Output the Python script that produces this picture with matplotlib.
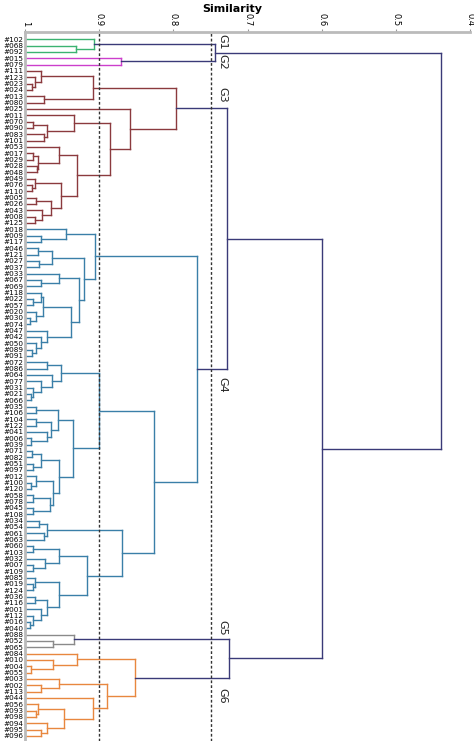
import matplotlib
matplotlib.use("Agg")
import matplotlib.pyplot as plt

leaves = ["#102","#068","#092","#015","#079","#111","#123","#023","#024","#013","#080","#025","#011","#070","#090","#083","#101","#053","#017","#029","#028","#048","#049","#076","#110","#005","#026","#043","#008","#125",
"#018","#009","#117","#046","#121","#027","#037","#033","#067","#069","#118","#022","#057","#020","#030","#074","#047","#042","#050","#089","#091","#072","#086","#064","#077","#031","#021","#066","#035","#106","#104","#122","#041","#006","#039","#071","#082","#051","#097","#012","#100","#120","#058","#078","#045","#108","#034","#054","#061","#063","#060","#103","#032","#007","#109","#085","#019","#124","#036","#116","#001","#112","#016","#040",
"#088","#052","#065","#084","#010","#004","#055","#003","#002","#113","#044","#056","#093","#098","#094","#095","#096"]

# clusters: (left, right, similarity)
G1 = ("#102", ("#068", "#092", 0.931), 0.907)
G2 = ("#015", "#079", 0.871)
G3 = (((("#111", ("#123", ("#023", "#024", 0.991), 0.987), 0.978)), ("#013", "#080", 0.975), 0.909),
      ("#025",
       (("#011", (("#070", "#090", 0.990), ("#083", "#101", 0.975), 0.971), 0.934),
        (("#053", (("#017", "#029", 0.989), ("#028", "#048", 0.984), 0.983), 0.954),
         (("#049", ("#076", "#110", 0.991), 0.987),
          (("#005", "#026", 0.986), ("#043", ("#008", "#125", 0.987), 0.977), 0.965), 0.952), 0.930), 0.886), 0.858), 0.796)
G4a = ((("#018", ("#009", "#117", 0.978), 0.945),
        ((("#046", "#121", 0.982), ("#027", "#037", 0.981), 0.964),
         (("#033", ("#067", "#069", 0.979), 0.954),
          ((("#118", ("#022", "#057", 0.990), 0.978), ("#020", ("#030", "#074", 0.993), 0.986), 0.976),
           ("#047", ("#042", ("#050", ("#089", "#091", 0.991), 0.986), 0.979), 0.971), 0.938), 0.928), 0.920), 0.906))
G4b = (((("#072", "#086", 0.971), ("#064", ("#077", ("#031", ("#021", "#066", 0.992), 0.989), 0.978), 0.964), 0.951),
        ((("#035", "#106", 0.986), (("#104", "#122", 0.986), ("#041", ("#006", "#039", 0.992), 0.971), 0.965), 0.956),
         ((("#071", "#082", 0.991), ("#051", "#097", 0.989), 0.978),
          (("#012", ("#100", "#120", 0.992), 0.986), (("#058", "#078", 0.990), ("#045", "#108", 0.989), 0.967), 0.962), 0.954), 0.935), 0.900),
       ((("#034", "#054", 0.981), ("#061", "#063", 0.975), 0.971),
        ((("#060", "#103", 0.990), ("#032", ("#007", "#109", 0.989), 0.973), 0.954),
         (("#085", ("#019", "#124", 0.990), 0.987),
          (("#036", "#116", 0.987), ("#001", ("#112", ("#016", "#040", 0.994), 0.989), 0.979), 0.971), 0.954), 0.917), 0.869), 0.826)
G4 = (G4a, G4b, 0.768)
G5 = ("#088", ("#052", "#065", 0.962), 0.934)
G6 = (("#084", ("#010", ("#004", "#055", 0.992), 0.963), 0.930),
      (("#003", ("#002", "#113", 0.978), 0.954),
       ("#044", (("#056", ("#093", "#098", 0.986), 0.982), ("#094", ("#095", "#096", 0.979), 0.971), 0.947), 0.908), 0.889), 0.852)
TOP = ((("G1", "G2", 0.744)), (("G3", "G4", 0.728), ("G5", "G6", 0.725), 0.600), 0.439)

groups = {"G1": G1, "G2": G2, "G3": G3, "G4": G4, "G5": G5, "G6": G6}
colors = {"G1": "#3cb371", "G2": "#cc3fcc", "G3": "#8b3a3e", "G4": "#3a7fa8",
          "G5": "#8a8a8a", "G6": "#e8873f"}
navy = "#3a3a78"
group_labels = ["G1", "G2", "G3", "G4", "G5", "G6"]
group_label_y = [0.4, 3.6, 8.8, 54.6, 93.0, 103.7]
cut_lines = [0.9, 0.749]

fig = plt.figure(figsize=(4.74, 7.41), dpi=100)
ax = fig.add_axes([0.053, 0.0, 0.939, 0.957])
idx = {n: i for i, n in enumerate(leaves)}
lw = 1.0

def draw(node, color):
    if isinstance(node, str):
        if node in groups:
            return draw(groups[node], colors[node])
        return idx[node], 1.0
    a, b, h = node
    ya, ha = draw(a, color)
    yb, hb = draw(b, color)
    ax.plot([ha, h], [ya, ya], color=color, lw=lw)
    ax.plot([hb, h], [yb, yb], color=color, lw=lw)
    ax.plot([h, h], [ya, yb], color=color, lw=lw)
    return (ya + yb) / 2, h

draw(TOP, navy)
for c in cut_lines:
    ax.axvline(c, color="#333333", ls=(0, (2, 1.5)), lw=1.0)
for g, y in zip(group_labels, group_label_y):
    ax.text(0.741, y, g, rotation=-90, fontsize=8, ha="left", va="center", color="#222222")

N = len(leaves)
ax.set_xlim(1.0, 0.4)
ax.set_ylim(N - 0.2, -1.16)
ax.xaxis.tick_top()
ax.set_xticks([1, 0.9, 0.8, 0.7, 0.6, 0.5, 0.4])
ax.set_xticklabels(["1", "0.9", "0.8", "0.7", "0.6", "0.5", "0.4"], rotation=-90, fontsize=6)
ax.set_yticks(range(N))
ax.set_yticklabels(leaves, fontsize=5.2)
ax.tick_params(axis="y", length=0, pad=1)
ax.tick_params(axis="x", length=2, color="#999999", pad=2)
for s in ["right", "bottom"]:
    ax.spines[s].set_visible(False)
for s in ["top", "left"]:
    ax.spines[s].set_color("#bbbbbb")
    ax.spines[s].set_linewidth(2)
fig.text(0.49, 0.995, "Similarity", fontsize=8, fontweight="bold", ha="center", va="top")
fig.savefig("out.png", dpi=100)
